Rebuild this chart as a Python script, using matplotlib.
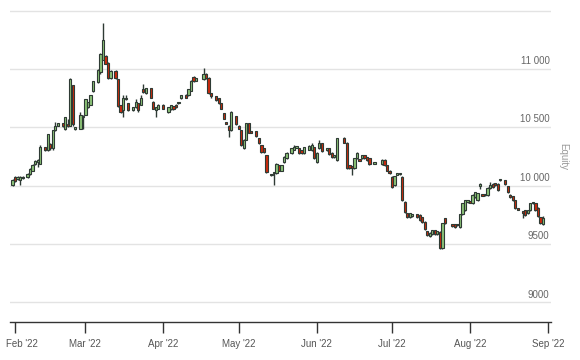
import pandas as pd
import numpy as np
import matplotlib
matplotlib.use('Agg')
import matplotlib.pyplot as plt
import matplotlib.transforms as mtransforms

plt.rcParams['font.family'] = ['Liberation Sans', 'DejaVu Sans']

# day offsets from 2022-02-01 and OHLC values
days = [-1, 0, 1, 2, 3, 5, 6, 7, 8, 9, 10, 12, 13, 14, 15, 16, 17, 19, 20, 21,
        22, 23, 24, 26, 27, 28, 29, 30, 31, 33, 34, 35, 36, 37, 38, 40, 41, 42, 43, 44,
        45, 47, 48, 49, 50, 51, 52, 54, 55, 56, 57, 59, 61, 62, 63, 64, 65, 66, 68, 69,
        70, 71, 72, 75, 76, 77, 78, 80, 81, 82, 83, 84, 85, 86, 88, 89, 90, 91, 92, 93,
        94, 96, 97, 98, 99, 100, 102, 103, 104, 105, 106, 107, 108, 110, 111, 112, 113, 114, 115, 117,
        118, 119, 120, 121, 122, 124, 125, 126, 127, 128, 131, 132, 133, 134, 135, 136, 137, 138, 139, 140,
        141, 143, 146, 147, 148, 149, 150, 151, 152, 153, 154, 155, 156, 157, 158, 160, 161, 162, 163, 164,
        165, 166, 167, 168, 169, 170, 171, 174, 175, 176, 177, 178, 179, 180, 181, 182, 183, 184, 185, 186,
        187, 188, 189, 190, 191, 192, 193, 195, 196, 197, 198, 199, 200, 202, 203, 204, 205, 206, 207, 208,
        209, 210]

opens = [10005, 10075, 10055, 10045, 10065, 10075, 10100, 10130, 10185, 10200, 10190, 10330, 10305, 10355, 10320, 10475, 10515, 10535, 10485, 10525,
         10515, 10860, 10490, 10490, 10585, 10610, 10670, 10695, 10810, 10885, 10970, 11080, 11115, 11055, 10920, 10985, 10910, 10690, 10645, 10755,
         10705, 10645, 10670, 10705, 10695, 10825, 10790, 10835, 10720, 10645, 10660, 10695, 10635, 10655, 10680, 10695, 10705, 10750, 10780, 10775,
         10815, 10935, 10900, 10910, 10960, 10925, 10790, 10765, 10750, 10705, 10620, 10535, 10515, 10475, 10595, 10515, 10475, 10320, 10395, 10535,
         10460, 10465, 10405, 10345, 10320, 10260, 10095, 10105, 10105, 10175, 10130, 10200, 10235, 10280, 10310, 10325, 10320, 10305, 10280, 10310,
         10305, 10330, 10200, 10320, 10365, 10305, 10320, 10280, 10245, 10220, 10405, 10370, 10175, 10165, 10150, 10235, 10220, 10235, 10260, 10245,
         10235, 10190, 10185, 10220, 10175, 10130, 10075, 10005, 10095, 10100, 10075, 9860, 9765, 9730, 9740, 9755, 9750, 9730, 9690, 9610,
         9570, 9585, 9620, 9585, 9605, 9465, 9720, 9670, 9670, 9665, 9645, 9755, 9790, 9860, 9860, 9850, 9900, 9875, 10000, 9920,
         9920, 9920, 9980, 10015, 10020, 10015, 10045, 10045, 9995, 9920, 9910, 9875, 9800, 9780, 9790, 9765, 9790, 9850, 9850, 9810,
         9730, 9670]

highs = [10055, 10080, 10085, 10080, 10080, 10105, 10150, 10185, 10220, 10225, 10345, 10335, 10445, 10365, 10480, 10545, 10540, 10540, 10590, 10570,
         10920, 10865, 10495, 10630, 10610, 10745, 10720, 10780, 10900, 11000, 11140, 11390, 11120, 11060, 10990, 10990, 10915, 10695, 10775, 10780,
         10710, 10675, 10740, 10710, 10775, 10870, 10840, 10840, 10725, 10675, 10700, 10700, 10675, 10695, 10685, 10700, 10720, 10780, 10785, 10830,
         10905, 10940, 10920, 11005, 10965, 10930, 10795, 10770, 10755, 10710, 10625, 10540, 10520, 10640, 10600, 10520, 10480, 10400, 10540, 10540,
         10465, 10470, 10410, 10350, 10325, 10265, 10100, 10115, 10195, 10180, 10180, 10255, 10285, 10325, 10345, 10335, 10325, 10310, 10335, 10345,
         10370, 10335, 10285, 10395, 10370, 10325, 10325, 10285, 10265, 10410, 10415, 10375, 10180, 10170, 10240, 10285, 10225, 10265, 10265, 10250,
         10240, 10205, 10225, 10225, 10180, 10135, 10080, 10085, 10105, 10105, 10080, 9865, 9770, 9770, 9760, 9760, 9755, 9735, 9695, 9615,
         9600, 9625, 9625, 9615, 9610, 9685, 9725, 9675, 9675, 9670, 9760, 9855, 9880, 9880, 9865, 9925, 9950, 9940, 10025, 9925,
         9925, 9985, 10030, 10020, 10025, 10020, 10055, 10050, 10000, 9925, 9915, 9880, 9805, 9785, 9795, 9795, 9855, 9860, 9855, 9815,
         9735, 9740]

lows = [9995, 10030, 10050, 10005, 10060, 10070, 10095, 10125, 10180, 10160, 10185, 10295, 10300, 10310, 10310, 10470, 10510, 10505, 10480, 10505,
        10510, 10515, 10475, 10485, 10490, 10605, 10665, 10690, 10805, 10880, 10960, 11075, 11040, 10910, 10915, 10915, 10675, 10625, 10585, 10735,
        10640, 10640, 10665, 10635, 10690, 10795, 10785, 10750, 10655, 10590, 10655, 10655, 10620, 10650, 10650, 10665, 10700, 10745, 10750, 10770,
        10810, 10890, 10895, 10905, 10915, 10785, 10755, 10725, 10700, 10655, 10570, 10525, 10415, 10470, 10520, 10485, 10340, 10315, 10390, 10450,
        10450, 10420, 10360, 10280, 10280, 10110, 10085, 10010, 10100, 10125, 10125, 10195, 10230, 10275, 10305, 10320, 10275, 10275, 10275, 10305,
        10300, 10230, 10195, 10315, 10290, 10300, 10265, 10240, 10240, 10215, 10365, 10145, 10145, 10090, 10145, 10230, 10210, 10230, 10230, 10215,
        10180, 10185, 10180, 10170, 10125, 10100, 9980, 10000, 10090, 10095, 9870, 9770, 9725, 9725, 9735, 9725, 9700, 9685, 9625, 9570,
        9565, 9580, 9580, 9580, 9460, 9460, 9675, 9650, 9640, 9655, 9640, 9750, 9785, 9855, 9850, 9845, 9895, 9870, 9970, 9910,
        9915, 9915, 9975, 9980, 10000, 9955, 10040, 10010, 9940, 9895, 9870, 9805, 9790, 9725, 9745, 9760, 9785, 9845, 9785, 9735,
        9675, 9665]

closes = [10045, 10040, 10075, 10075, 10070, 10100, 10140, 10175, 10210, 10220, 10330, 10305, 10440, 10320, 10475, 10515, 10535, 10510, 10585, 10510,
          10910, 10525, 10490, 10605, 10595, 10740, 10715, 10775, 10895, 10995, 11130, 11250, 11045, 10920, 10985, 10920, 10680, 10630, 10755, 10740,
          10645, 10670, 10720, 10645, 10750, 10800, 10835, 10755, 10660, 10670, 10690, 10660, 10670, 10690, 10655, 10670, 10715, 10775, 10755, 10825,
          10900, 10895, 10920, 10960, 10920, 10790, 10765, 10730, 10705, 10660, 10575, 10530, 10475, 10635, 10525, 10490, 10345, 10395, 10535, 10455,
          10455, 10425, 10365, 10285, 10285, 10115, 10090, 10110, 10190, 10130, 10175, 10250, 10280, 10320, 10330, 10330, 10280, 10280, 10330, 10340,
          10345, 10235, 10280, 10365, 10295, 10320, 10270, 10245, 10260, 10405, 10370, 10150, 10150, 10150, 10235, 10280, 10215, 10260, 10235, 10220,
          10185, 10200, 10220, 10175, 10130, 10105, 9985, 10080, 10100, 10100, 9875, 9775, 9730, 9765, 9755, 9730, 9705, 9690, 9630, 9575,
          9595, 9620, 9585, 9610, 9465, 9680, 9680, 9655, 9645, 9660, 9755, 9850, 9875, 9875, 9855, 9920, 9945, 9935, 10005, 9915,
          9920, 9980, 10005, 9985, 10005, 9960, 10050, 10015, 9945, 9900, 9875, 9810, 9795, 9765, 9750, 9790, 9850, 9855, 9790, 9740,
          9680, 9720]

y_ticks = [9000, 9500, 10000, 10500, 11000]
y_tick_labels = ['9000', '9500', '10 000', '10 500', '11 000']
month_ticks = ['2022-02-01', '2022-03-01', '2022-04-01', '2022-05-01', '2022-06-01',
               '2022-07-01', '2022-08-01', '2022-09-01']
month_labels = ["Feb '22", "Mar '22", "Apr '22", "May '22", "Jun '22", "Jul '22", "Aug '22", "Sep '22"]

df = pd.DataFrame({'day': days, 'open': opens, 'high': highs, 'low': lows, 'close': closes})
df['date'] = pd.Timestamp('2022-02-01') + pd.to_timedelta(df['day'], unit='D')
up = df['close'] >= df['open']

green = '#8cc477'
red = '#cc2a0c'
edge = '#2e3a34'

fig = plt.figure(figsize=(5.8, 3.6), dpi=100)
ax = fig.add_axes([10 / 580, 38 / 360, 541 / 580, 312 / 360])

# gridlines
for v in [9000, 9500, 10000, 10500, 11000, 11500]:
    ax.axhline(v, color='#e3e3e3', lw=1, zorder=0)

# wicks
ax.vlines(df['date'], df['low'], df['high'], color=edge, lw=1, zorder=2)

# bodies
body = (df['close'] - df['open']).abs().clip(lower=12)
bottom = df[['open', 'close']].min(axis=1)
ax.bar(df['date'], body, bottom=bottom, width=0.9,
       color=np.where(up, green, red), edgecolor=edge, linewidth=0.8, zorder=3)

ax.set_ylim(8833, 11505)
ax.set_xlim(pd.Timestamp('2022-01-30'), pd.Timestamp('2022-09-02 05:00'))

# y labels drawn inside, above the gridlines on the right
trans = mtransforms.blended_transform_factory(ax.transAxes, ax.transData)
for v, lab in zip(y_ticks, y_tick_labels):
    ax.text(0.997, v + 25, lab, transform=trans, ha='right', va='bottom',
            fontsize=7, color='#666666')
ax.set_yticks([])

ax.text(1.022, 0.53, 'Equity', transform=ax.transAxes, rotation=270,
        ha='center', va='center', fontsize=7, color='#999999')

# x axis
ax.set_xticks(pd.to_datetime(month_ticks))
ax.set_xticklabels(month_labels, fontsize=7, color='#555555')
ax.tick_params(axis='x', length=8, width=1, color='#333333', pad=4)
lbl = ax.get_xticklabels()[0]
lbl.set_transform(lbl.get_transform() + mtransforms.ScaledTranslation(7 / 100, 0, fig.dpi_scale_trans))

for s in ['top', 'right', 'left']:
    ax.spines[s].set_visible(False)
ax.spines['bottom'].set_color('#333333')
ax.spines['bottom'].set_linewidth(1)
ax.set_facecolor('white')

fig.savefig('out.png', dpi=100, facecolor='white')
